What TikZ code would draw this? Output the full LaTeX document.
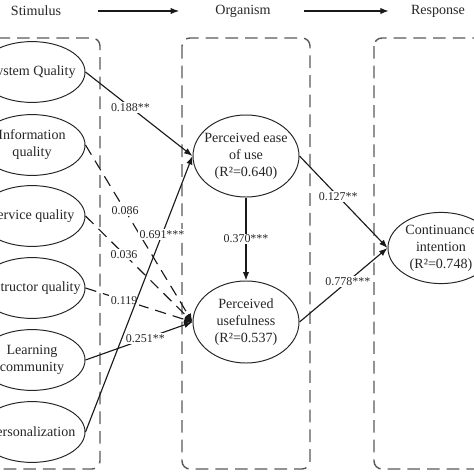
\documentclass[tikz,border=0pt]{standalone}
\usepackage{fontspec}
\setmainfont{Liberation Serif}
\usetikzlibrary{arrows.meta,shapes.geometric}
\begin{document}
\begin{tikzpicture}[x=0.025cm,y=-0.025cm,
  every node/.style={text=black!85},
  etxt/.style={align=center, inner sep=0pt, font=\fontsize{10}{12}\selectfont, text=black!85},
  ell/.style={ellipse, draw=black!85, line width=0.7pt, minimum width=2.65cm, minimum height=1.52cm, inner sep=0pt},
  midell/.style={ell, minimum height=2.05cm},
  grp/.style={draw=black!65, line width=1pt, dash pattern=on 9pt off 5pt, rounded corners=0.2cm},
  sig/.style={line width=0.8pt, draw=black!90, -{Latex[length=6pt,width=4.5pt]}},
  nsig/.style={sig, dash pattern=on 8pt off 5pt},
  lab/.style={fill=white, inner sep=1pt, font=\fontsize{8.5}{10}\selectfont},
  hdr/.style={inner sep=0pt, font=\fontsize{10}{12}\selectfont},
  harr/.style={line width=0.8pt, draw=black!90, -{Latex[length=6pt,width=4.5pt]}}
]
\useasboundingbox (0,0) rectangle (474,474);
\clip (0,0) rectangle (474,474);

% header
\node[hdr] (stim) at (36,11) {Stimulus};
\node[hdr] (org) at (243,11) {Organism};
\node[hdr] (resp) at (438,11) {Response};
\draw[harr, shorten <=0.925cm, shorten >=0.9cm] (stim) -- (org);
\draw[harr, shorten <=0.825cm, shorten >=0.55cm] (org) -- (resp);

% group boxes
\draw[grp] (-10,38) rectangle (100,469);
\draw[grp] (182,38) rectangle (310,469);
\draw[grp] (374,38) rectangle (500,469);

% stimulus constructs
\node[ell, label={[etxt]center:System Quality}] (sq) at (32,72) {};
\node[ell, label={[etxt]center:Information\\quality}] (iq) at (32,145) {};
\node[ell, label={[etxt]center:Service quality}] (svc) at (32,216) {};
\node[ell, label={[etxt]center:Instructor quality}] (inq) at (32,288) {};
\node[ell, label={[etxt]center:Learning\\community}] (lc) at (32,360) {};
\node[ell, label={[etxt]center:Personalization}] (pers) at (32,432) {};

% organism
\node[midell, label={[etxt]center:Perceived ease\\of use\\(R²=0.640)}] (peu) at (246,156) {};
\node[midell, label={[etxt]center:Perceived\\usefulness\\(R²=0.537)}] (pu) at (246,322) {};

% response
\node[ell, minimum height=1.78cm, label={[etxt]center:Continuance\\intention\\(R²=0.748)}] (ci) at (441,248) {};

% paths
\draw[sig] (sq.east) -- node[lab,pos=0.42]{0.188**} (peu.west);
\draw[nsig] (iq.east) -- node[lab,pos=0.37]{0.086} (pu.west);
\draw[nsig] (svc.east) -- node[lab,pos=0.36]{0.036} (pu.west);
\draw[nsig] (inq.east) -- node[lab,pos=0.36]{0.119} (pu.west);
\draw[sig] (lc.east) -- node[lab,pos=0.56]{0.251**} (pu.west);
\draw[sig] (pers.east) -- node[lab,pos=0.715]{0.691***} (peu.west);
\draw[sig] (peu.south) -- node[lab]{0.370***} (pu.north);
\draw[sig] (peu.east) -- node[lab,pos=0.44]{0.127**} (ci.west);
\draw[sig] (pu.east) -- node[lab,pos=0.55]{0.778***} (ci.west);
\end{tikzpicture}
\end{document}
